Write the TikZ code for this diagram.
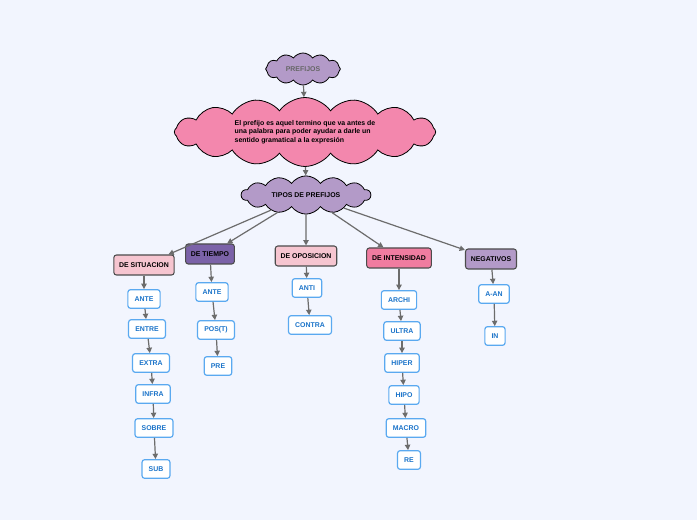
\documentclass[tikz,border=0pt]{standalone}
\usepackage{fontspec}
\setmainfont{Liberation Sans}
\usetikzlibrary{shapes.symbols,arrows.meta}
\definecolor{bg}{HTML}{F2F5FE}
\definecolor{lav}{HTML}{B39AC8}
\definecolor{pk}{HTML}{F387AD}
\definecolor{lpk}{HTML}{F6C5D0}
\definecolor{dpu}{HTML}{7B62A8}
\definecolor{ipk}{HTML}{F07CA0}
\definecolor{lb}{HTML}{5AA9F0}
\definecolor{tb}{HTML}{1A73C9}
\begin{document}
\begin{tikzpicture}[x=0.75pt,y=-0.75pt,font=\bfseries\fontsize{5.2}{6.2}\selectfont,
 cl/.style={cloud,cloud puffs=12,cloud puff arc=110,aspect=2.5,draw,line width=0.6pt,inner sep=0pt},
 cat/.style={draw=black!70,line width=0.8pt,rounded corners=2pt,minimum height=15pt,inner xsep=4pt},
 leaf/.style={draw=lb,line width=0.9pt,fill=white,rounded corners=2pt,text=tb,minimum height=14pt,inner xsep=5pt},
 ar/.style={draw=gray!85!black,line width=0.9pt,-{Triangle[length=4pt,width=4pt]}}]
\fill[bg] (0,0) rectangle (697,520);
\useasboundingbox (0,0) rectangle (697,520);
\node[cl,fill=lav,minimum width=56pt,minimum height=24pt,text=black!60] (p) at (303,69) {PREFIJOS};
\node[cl,fill=pk,cloud puffs=16,aspect=4,minimum width=196pt,minimum height=48pt,align=left] (d) at (305,132) {El prefijo es aquel termino que va antes de\\una palabra para poder ayudar a darle un\\sentido gramatical a la expresión};
\node[cl,fill=lav,cloud puffs=14,aspect=3.5,minimum width=97pt,minimum height=26pt] (t) at (306,195) {TIPOS DE PREFIJOS};
\node[cat,fill=lpk] (s) at (144,265) {DE SITUACION};
\node[cat,fill=dpu] (ti) at (210,254) {DE TIEMPO};
\node[cat,fill=lpk] (o) at (306,256) {DE OPOSICION};
\node[cat,fill=ipk] (in) at (399,258) {DE INTENSIDAD};
\node[cat,fill=lav] (n) at (491,259) {NEGATIVOS};
\draw[ar] (p) -- (d); \draw[ar] (d) -- (t);
\foreach \x in {s,ti,o,in,n} \draw[ar] (t) -- (\x);
\node[leaf] (s1) at (144,299) {ANTE};
\node[leaf] (s2) at (147,329) {ENTRE};
\node[leaf] (s3) at (151,363) {EXTRA};
\node[leaf] (s4) at (153,394) {INFRA};
\node[leaf] (s5) at (154,428) {SOBRE};
\node[leaf] (s6) at (156,469) {SUB};
\node[leaf] (t1) at (212,292) {ANTE};
\node[leaf] (t2) at (216,330) {POS(T)};
\node[leaf] (t3) at (218,366) {PRE};
\node[leaf] (o1) at (307,288) {ANTI};
\node[leaf] (o2) at (310,325) {CONTRA};
\node[leaf] (i1) at (399,300) {ARCHI};
\node[leaf] (i2) at (402,331) {ULTRA};
\node[leaf] (i3) at (402,363) {HIPER};
\node[leaf] (i4) at (404,395) {HIPO};
\node[leaf] (i5) at (406,428) {MACRO};
\node[leaf] (i6) at (409,460) {RE};
\node[leaf] (n1) at (494,294) {A-AN};
\node[leaf] (n2) at (495,336) {IN};
\draw[ar] (s)--(s1); \draw[ar] (s1)--(s2); \draw[ar] (s2)--(s3); \draw[ar] (s3)--(s4); \draw[ar] (s4)--(s5); \draw[ar] (s5)--(s6);
\draw[ar] (ti)--(t1); \draw[ar] (t1)--(t2); \draw[ar] (t2)--(t3);
\draw[ar] (o)--(o1); \draw[ar] (o1)--(o2);
\draw[ar] (in)--(i1); \draw[ar] (i1)--(i2); \draw[ar] (i2)--(i3); \draw[ar] (i3)--(i4); \draw[ar] (i4)--(i5); \draw[ar] (i5)--(i6);
\draw[ar] (n)--(n1); \draw[ar] (n1)--(n2);
\end{tikzpicture}
\end{document}
